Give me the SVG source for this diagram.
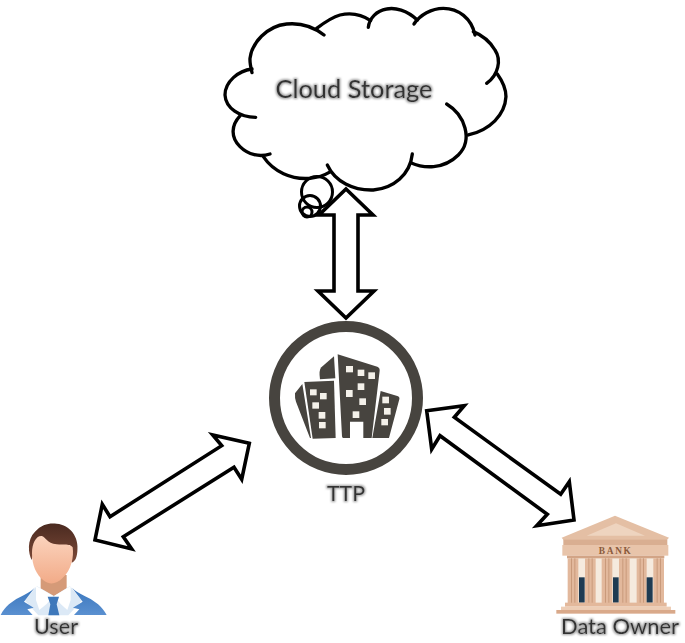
<svg xmlns="http://www.w3.org/2000/svg" width="685" height="643" viewBox="0 0 685 643">
<defs>
<style>
.lbl{font-family:"Lato","Liberation Sans",sans-serif;fill:#333;filter:url(#glow)}
.arc{fill:none;stroke:#000;stroke-width:10;stroke-linecap:round}
.circ{fill:none;stroke:#000;stroke-width:3}
.arr{fill:#fff;stroke:#000;stroke-width:3.6;stroke-linejoin:miter}
.dk{fill:#47443f}
.win{fill:#f4f1ea}
.col{fill:#e2b89c}
.stripe{fill:#c99a7b}
.door{fill:#1f3b52}
</style>
<filter id="glow" x="-15%" y="-40%" width="130%" height="180%">
<feMorphology in="SourceAlpha" operator="dilate" radius="1" result="d"/>
<feGaussianBlur in="d" stdDeviation="0.8" result="b"/>
<feFlood flood-color="#a0a0a0"/>
<feComposite in2="b" operator="in" result="g"/>
<feMerge><feMergeNode in="g"/><feMergeNode in="SourceGraphic"/></feMerge>
</filter>
<linearGradient id="hair" x1="0" y1="0" x2="0" y2="1"><stop offset="0" stop-color="#4a2a20"/><stop offset="1" stop-color="#7d4a38"/></linearGradient>
<linearGradient id="face" x1="0" y1="0" x2="0" y2="1"><stop offset="0" stop-color="#fbd3bd"/><stop offset="1" stop-color="#f2ab88"/></linearGradient>
<linearGradient id="jacket" x1="0" y1="0" x2="0" y2="1"><stop offset="0" stop-color="#3a76bd"/><stop offset="1" stop-color="#5a90d0"/></linearGradient>
</defs>
<rect width="685" height="643" fill="#fff"/>

<g id="cloud">
<g transform="translate(210,0) scale(0.3333)">
<path class="arc" d="M342,105C310,80 270,68 230,72C170,78 125,130 120,175C119,190 123,205 126,218"/>
<path class="arc" d="M126,207C85,212 45,245 45,285C47,325 90,352 137,352"/>
<path class="arc" d="M90,348C65,375 60,410 90,440C115,465 150,472 180,462"/>
<path class="arc" d="M160,470C190,515 245,540 300,535C325,533 345,525 362,515"/>
<path class="arc" d="M352,495C375,545 430,572 490,570C550,565 600,525 607,462"/>
<path class="arc" d="M602,488C640,505 700,510 745,465C790,420 765,345 710,312"/>
<path class="arc" d="M775,405C840,390 885,345 888,290C888,265 875,240 862,222"/>
<path class="arc" d="M830,250C865,225 875,180 855,150C840,125 815,105 790,95"/>
<path class="arc" d="M795,105C785,55 745,25 700,25C665,25 630,45 612,72"/>
<path class="arc" d="M622,60C590,30 555,22 530,27C500,32 478,55 475,82"/>
<path class="arc" d="M482,62C450,40 420,38 390,45C365,52 340,70 320,85"/>
</g>
<circle class="circ" cx="317" cy="192" r="15.5"/>
<circle class="circ" cx="310" cy="206" r="10.5"/>
<circle class="circ" cx="307" cy="212" r="5"/>
<text class="lbl" x="354" y="98" font-size="25" text-anchor="middle" textLength="157" lengthAdjust="spacingAndGlyphs">Cloud Storage</text>
</g>

<g id="connectors">
<polygon class="arr" points="346,189 373,215 358,215 358,291 374,291 346,318 318,291 334,291 334,215 319,215"/>
<polygon class="arr" points="249.3,443.3 212.7,435 221.7,445.7 110,516.7 102.3,504.3 95,540 131.7,549 123.3,536.7 234,467.3 241.7,479.3"/>
<polygon class="arr" points="426.7,410.7 464.3,405.7 454.3,417.3 560.7,494.3 569.3,481.7 574,520 536.7,525.7 547.3,514.3 440,435.7 431.7,449.3"/>
</g>

<g id="ttp">
<circle cx="346" cy="398" r="71.5" fill="#fff" stroke="#47443f" stroke-width="11"/>
<g transform="translate(260,310) scale(0.3333)">
<path class="dk" d="M233,133L352,170Q360,173 359,182L335,384L310,384L310,335L270,335L270,384L250,384Q246,384 246,378Z"/>
<path class="dk" d="M222,139L226,205L180,208Q176,180 184,172Z"/>
<path class="dk" d="M133,216L222,212L227,384L158,386Z"/>
<path class="dk" d="M127,222L105,250Q104,265 108,275L150,384L153,384Z"/>
<path class="dk" d="M362,243L412,258Q420,261 418,268L387,384L337,384Z"/>
<g class="win">
<rect x="150" y="238" width="20" height="18"/><rect x="180" y="249" width="20" height="19"/><rect x="157" y="277" width="20" height="19"/><rect x="176" y="306" width="20" height="20"/><rect x="177" y="336" width="20" height="19"/>
<rect x="258" y="168" width="21" height="19"/><rect x="293" y="179" width="20" height="19"/><rect x="325" y="187" width="20" height="20"/><rect x="293" y="220" width="20" height="20"/><rect x="258" y="240" width="20" height="21"/><rect x="298" y="265" width="20" height="20"/><rect x="278" y="304" width="20" height="20"/>
<rect x="367" y="260" width="20" height="20"/><rect x="372" y="294" width="20" height="20"/><rect x="364" y="327" width="20" height="19"/>
</g>
</g>
<text class="lbl" x="346" y="501" font-size="22" text-anchor="middle" textLength="38" lengthAdjust="spacingAndGlyphs">TTP</text>
</g>

<g id="user">
<g transform="translate(0,510) scale(0.3333)">
<path d="M122,195L122,238L160,262L200,238L200,195Z" fill="#d59a78"/>
<path d="M110,228L75,272L115,316L205,316L245,272L210,228L162,258Z" fill="#dce9f6"/>
<path d="M108,228L160,258L140,282L118,300L108,270ZM212,228L162,258L182,282L202,300L212,270Z" fill="#fff"/>
<path d="M105,232C85,258 30,262 2,315L98,315L82,298L101,293L72,275Z" fill="url(#jacket)"/>
<path d="M215,232C235,258 292,262 320,315L222,315L238,298L219,293L248,275Z" fill="url(#jacket)"/>
<path d="M143,260L177,260L170,283L178,316L145,316L151,283Z" fill="#3e78bb"/>
<path d="M95,150C85,130 80,90 105,65C125,42 150,38 170,41C210,45 238,80 232,125C230,145 224,155 215,158L210,105L150,105L105,115Z" fill="url(#hair)"/>
<path d="M96,130C96,100 108,77 125,78C137,80 140,100 170,103C190,105 210,100 218,112C222,140 215,180 187,205C170,222 150,225 133,213C108,195 96,165 96,130Z" fill="url(#face)"/>
</g>
<text class="lbl" x="56" y="634" font-size="22" text-anchor="middle" textLength="44" lengthAdjust="spacingAndGlyphs">User</text>
</g>

<g id="data-owner">
<g transform="translate(545,505) scale(0.3333)">
<rect x="72" y="158" width="280" height="138" fill="#f5eade"/>
<polygon points="210,32 372,98 365,106 56,106 50,98" fill="#e4bfa4"/>
<polygon points="213,55 300,92 125,92" fill="#eed4bf"/>
<rect x="55" y="104" width="312" height="16" fill="#d9ae91"/>
<rect x="52" y="120" width="318" height="32" fill="#e8c4aa"/>
<rect x="66" y="152" width="292" height="8" fill="#d2a486"/>
<g>
<rect class="col" x="68" y="160" width="32" height="134"/><rect class="col" x="120" y="160" width="32" height="134"/><rect class="col" x="170" y="160" width="32" height="134"/><rect class="col" x="222" y="160" width="32" height="134"/><rect class="col" x="275" y="160" width="30" height="134"/><rect class="col" x="325" y="160" width="32" height="134"/>
<rect class="stripe" x="78" y="160" width="3" height="134"/><rect class="stripe" x="88" y="160" width="3" height="134"/><rect class="stripe" x="130" y="160" width="3" height="134"/><rect class="stripe" x="140" y="160" width="3" height="134"/><rect class="stripe" x="180" y="160" width="3" height="134"/><rect class="stripe" x="190" y="160" width="3" height="134"/><rect class="stripe" x="232" y="160" width="3" height="134"/><rect class="stripe" x="242" y="160" width="3" height="134"/><rect class="stripe" x="284" y="160" width="3" height="134"/><rect class="stripe" x="294" y="160" width="3" height="134"/><rect class="stripe" x="335" y="160" width="3" height="134"/><rect class="stripe" x="345" y="160" width="3" height="134"/>
</g>
<rect class="door" x="102" y="217" width="17" height="76"/><rect class="door" x="204" y="217" width="17" height="76"/><rect class="door" x="305" y="217" width="18" height="76"/>
<rect x="60" y="293" width="305" height="12" fill="#e3b89b"/>
<rect x="48" y="305" width="330" height="10" fill="#edcdb5"/>
<rect x="34" y="315" width="357" height="11" fill="#d9a98a"/>
<text x="212" y="147" font-family="'Liberation Serif',serif" font-weight="700" font-size="28" fill="#8a5a3c" text-anchor="middle" letter-spacing="5">BANK</text>
</g>
<text class="lbl" x="620" y="634" font-size="22" text-anchor="middle" textLength="118" lengthAdjust="spacingAndGlyphs">Data Owner</text>
</g>
</svg>
